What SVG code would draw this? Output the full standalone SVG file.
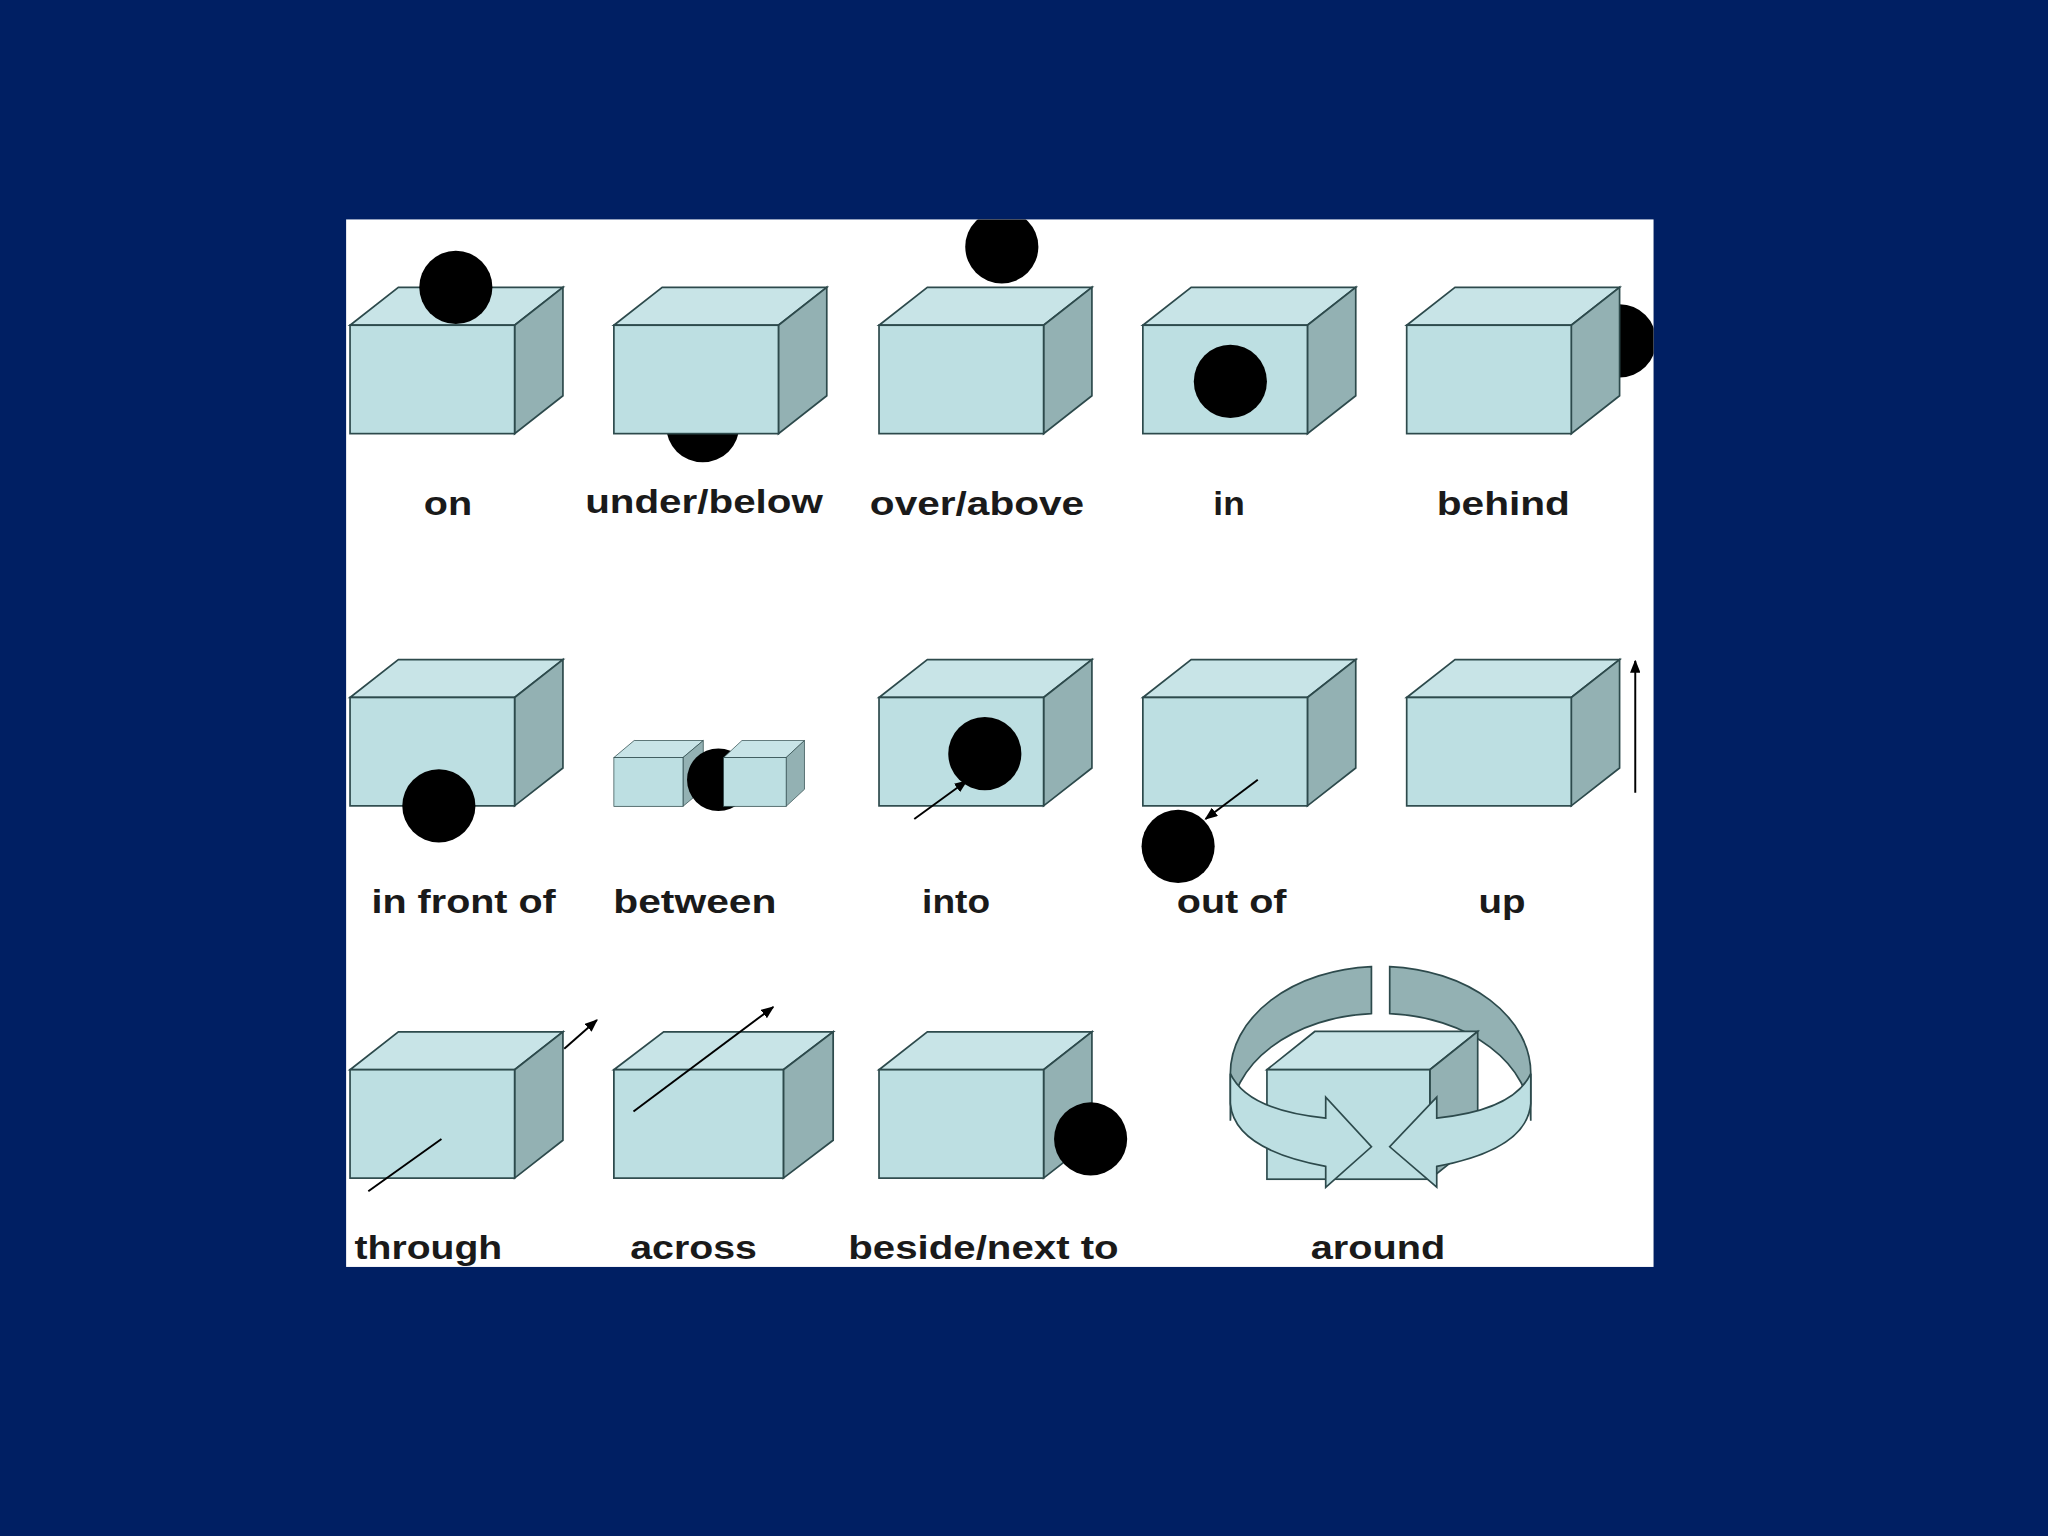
<svg xmlns="http://www.w3.org/2000/svg" xmlns:xlink="http://www.w3.org/1999/xlink" width="2048" height="1536" viewBox="0 0 2048 1536">
<style>
.f{fill:#bddfe2;stroke:#2d4a4c;stroke-width:1.3}
.t{fill:#c8e4e7;stroke:#2d4a4c;stroke-width:1.3}
.s{fill:#93b1b3;stroke:#2d4a4c;stroke-width:1.3}
.b{fill:#000}
.l{font-family:"Liberation Sans",Arial,sans-serif;font-size:25px;font-weight:bold;fill:#1a1a1a;text-anchor:middle}
.a{stroke:#000;stroke-width:1.5;fill:none}
.bk{fill:#93b1b3;stroke:#2d4a4c;stroke-width:1.3}
.fr{fill:#bddfe2;stroke:#2d4a4c;stroke-width:1.3}
</style>
<defs>
<g id="cube">
<polygon class="t" points="0,0 37,-29 163,-29 126,0"/>
<polygon class="s" points="126,0 163,-29 163,54 126,83"/>
<rect class="f" x="0" y="0" width="126" height="83"/>
</g>
<marker id="ah" markerWidth="10" markerHeight="8" refX="9" refY="4" orient="auto" markerUnits="userSpaceOnUse">
<polygon points="0,0 10,4 0,8" fill="#000"/>
</marker>
<clipPath id="panel"><rect x="265" y="168" width="1001" height="802"/></clipPath>
</defs>
<rect width="2048" height="1536" fill="#001f63"/>
<g transform="scale(1.30612)">
<rect x="265" y="168" width="1001" height="802" fill="#fff"/>
<g clip-path="url(#panel)">
<g id="on"><use xlink:href="#cube" x="268" y="249"/><circle class="b" cx="349" cy="220" r="28"/><text class="l" x="343" y="394" textLength="37" lengthAdjust="spacingAndGlyphs">on</text></g>
<g id="under"><circle class="b" cx="538" cy="326" r="28"/><use xlink:href="#cube" x="470" y="249"/><text class="l" x="539" y="393" textLength="182" lengthAdjust="spacingAndGlyphs">under/below</text></g>
<g id="over"><use xlink:href="#cube" x="673" y="249"/><circle class="b" cx="767" cy="189" r="28"/><text class="l" x="748" y="394" textLength="164" lengthAdjust="spacingAndGlyphs">over/above</text></g>
<g id="in"><use xlink:href="#cube" x="875" y="249"/><circle class="b" cx="942" cy="292" r="28"/><text class="l" x="941" y="394" textLength="24" lengthAdjust="spacingAndGlyphs">in</text></g>
<g id="behind"><circle class="b" cx="1240" cy="261" r="28"/><use xlink:href="#cube" x="1077" y="249"/><text class="l" x="1151" y="394" textLength="102" lengthAdjust="spacingAndGlyphs">behind</text></g>

<g id="infront"><use xlink:href="#cube" x="268" y="534"/><circle class="b" cx="336" cy="617" r="28"/><text class="l" x="355" y="699" textLength="141" lengthAdjust="spacingAndGlyphs">in front of</text></g>
<g id="between"><use xlink:href="#cube" transform="translate(470,580) scale(0.42,0.45)"/><circle class="b" cx="550" cy="597" r="24"/><use xlink:href="#cube" transform="translate(554,580) scale(0.38,0.45)"/><text class="l" x="532" y="699" textLength="125" lengthAdjust="spacingAndGlyphs">between</text></g>
<g id="into"><use xlink:href="#cube" x="673" y="534"/><circle class="b" cx="754" cy="577" r="28"/><line class="a" x1="700" y1="627" x2="740" y2="598" marker-end="url(#ah)"/><text class="l" x="732" y="699" textLength="52" lengthAdjust="spacingAndGlyphs">into</text></g>
<g id="outof"><use xlink:href="#cube" x="875" y="534"/><circle class="b" cx="902" cy="648" r="28"/><line class="a" x1="963" y1="597" x2="923" y2="627" marker-end="url(#ah)"/><text class="l" x="943" y="699" textLength="84" lengthAdjust="spacingAndGlyphs">out of</text></g>
<g id="up"><use xlink:href="#cube" x="1077" y="534"/><line class="a" x1="1252" y1="607" x2="1252" y2="506" marker-end="url(#ah)"/><text class="l" x="1150" y="699" textLength="36" lengthAdjust="spacingAndGlyphs">up</text></g>

<g id="through"><use xlink:href="#cube" x="268" y="819"/><line class="a" x1="282" y1="912" x2="338" y2="872"/><line class="a" x1="432" y1="803" x2="457" y2="781" marker-end="url(#ah)"/><text class="l" x="328" y="964" textLength="113" lengthAdjust="spacingAndGlyphs">through</text></g>
<g id="across"><use xlink:href="#cube" transform="translate(470,819) scale(1.03,1)"/><line class="a" x1="485" y1="851" x2="592" y2="771" marker-end="url(#ah)"/><text class="l" x="531" y="964" textLength="97" lengthAdjust="spacingAndGlyphs">across</text></g>
<g id="beside"><use xlink:href="#cube" x="673" y="819"/><circle class="b" cx="835" cy="872" r="28"/><text class="l" x="753" y="964" textLength="207" lengthAdjust="spacingAndGlyphs">beside/next to</text></g>
<g id="around">
<path class="bk" d="M942,822 A115,82 0 0 1 1050,740 L1050,776 A115,82 0 0 0 942,858 Z"/>
<path class="bk" d="M1172,822 A115,82 0 0 0 1064,740 L1064,776 A115,82 0 0 1 1172,858 Z"/>
<use xlink:href="#cube" transform="translate(970,819) scale(0.99,1.01)"/>
<path class="fr" d="M942,822 Q955,850 1015,856 L1015,840 L1050,878 L1015,909 L1015,893 Q945,880 942,845 Z"/>
<path class="fr" d="M1172,822 Q1159,850 1100,856 L1100,840 L1064,878 L1100,909 L1100,893 Q1169,880 1172,845 Z"/>
<text class="l" x="1055" y="964" textLength="103" lengthAdjust="spacingAndGlyphs">around</text>
</g>
</g>
</g>
</svg>
